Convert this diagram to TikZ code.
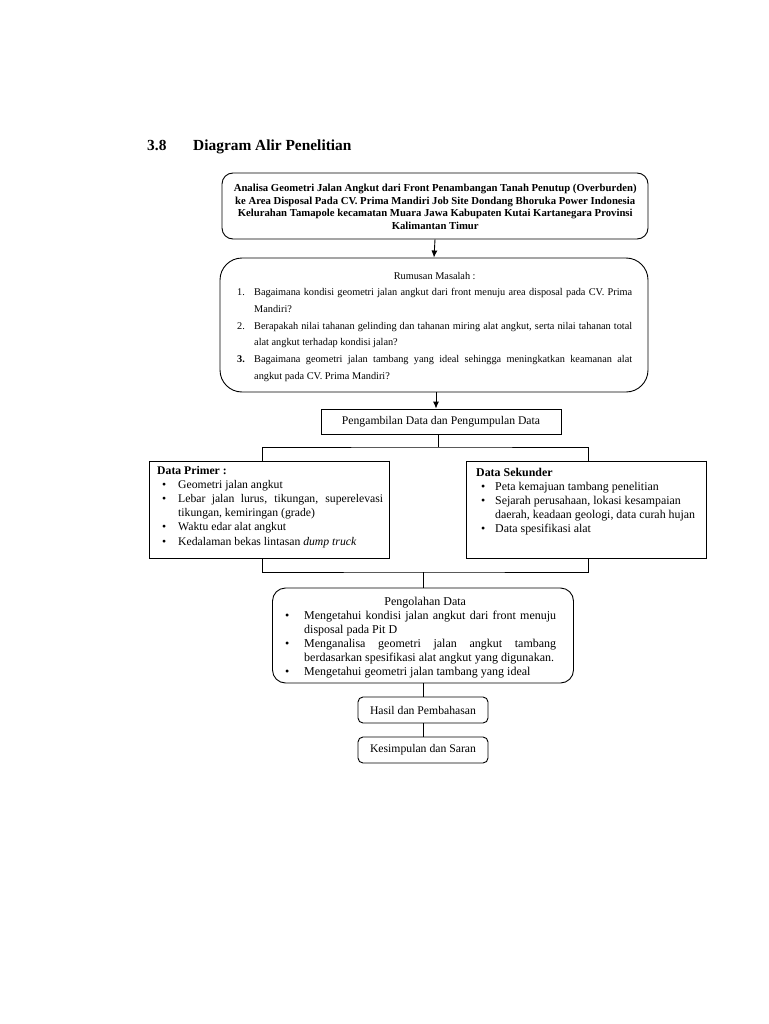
\documentclass[tikz,border=0pt]{standalone}
\usepackage{fontspec}
\setmainfont{Liberation Serif}
\usetikzlibrary{arrows.meta}
\newcommand\bulA{\makebox[21pt][l]{\hspace{5pt}\textbullet}}
\newcommand\bulB{\makebox[19pt][l]{\hspace{5pt}\textbullet}}
\newcommand\bulC{\makebox[22pt][l]{\hspace{3pt}\textbullet}}
\begin{document}
\begin{tikzpicture}[x=1pt,y=-1pt,
  box/.style={draw, line width=0.9pt, inner sep=0pt},
  conn/.style={line width=0.9pt},
  arr/.style={conn, -{Latex[length=7pt,width=6pt]}},
  txt/.style={inner sep=0pt, anchor=base west, align=justify},
  f103/.style={font=\fontsize{10.3}{16.7}\selectfont},
  f117/.style={font=\fontsize{11.7}{14.2}\selectfont},
  f12/.style={font=\fontsize{12}{14}\selectfont}]
\useasboundingbox (0,0) rectangle (768,1024);
\fill[white] (0,0) rectangle (768,1024);

% title
\node[inner sep=0pt, anchor=base west, font=\fontsize{15.4}{18}\selectfont\bfseries] (num) at (147,151) {3.8};
\node[inner sep=0pt, anchor=base west, font=\fontsize{15.4}{18}\selectfont\bfseries] (ttl) at (193,151) {Diagram Alir Penelitian};

% box 1
\node[box, rounded corners=11pt, minimum width=426pt, minimum height=66pt] (b1) at (435,206) {};
\node[txt, text width=420pt, font=\fontsize{10.7}{12.7}\selectfont\bfseries] (t1) at (225,191.5)
 {\makebox[420pt]{Analisa Geometri Jalan Angkut dari Front Penambangan Tanah Penutup (Overburden)}\\
  \makebox[420pt]{ke Area Disposal Pada CV. Prima Mandiri Job Site Dondang Bhoruka Power Indonesia}\\
  \makebox[420pt]{Kelurahan Tamapole kecamatan Muara Jawa Kabupaten Kutai Kartanegara Provinsi}\\
  \makebox[420pt]{Kalimantan Timur}};

% box 2
\node[box, rounded corners=22pt, minimum width=428pt, minimum height=134pt] (b2) at (434,325) {};
\node[txt, f103, text width=395pt] (t2) at (237,279)
 {\makebox[395pt]{Rumusan Masalah :}\\
  \makebox[17pt][l]{1.}\makebox[378pt][s]{Bagaimana kondisi geometri jalan angkut dari front menuju area disposal pada CV. Prima}\\
  \hspace*{17pt}Mandiri?\\
  \makebox[17pt][l]{2.}\makebox[378pt][s]{Berapakah nilai tahanan gelinding dan tahanan miring alat angkut, serta nilai tahanan total}\\
  \hspace*{17pt}alat angkut terhadap kondisi jalan?\\
  \makebox[17pt][l]{\textbf{3.}}\makebox[378pt][s]{Bagaimana geometri jalan tambang yang ideal sehingga meningkatkan keamanan alat}\\
  \hspace*{17pt}angkut pada CV. Prima Mandiri?};

% box 3
\node[box, minimum width=240pt, minimum height=25pt, f117] (b3) at (441,421.5) {Pengambilan Data dan Pengumpulan Data};

% data primer
\node[box, minimum width=240pt, minimum height=97pt] (bp) at (269,509.5) {};
\draw[line width=1.6pt] (bp.north east) -- (bp.south east) -- (bp.south west);
\node[txt, f117, text width=228pt] (tp) at (157,474)
 {\textbf{Data Primer :}\\
  \bulA Geometri jalan angkut\\
  \bulA\makebox[205pt][s]{Lebar jalan lurus, tikungan, superelevasi}\\
  \hspace*{21pt}tikungan, kemiringan (grade)\\
  \bulA Waktu edar alat angkut\\
  \bulA Kedalaman bekas lintasan \textit{dump truck}};

% data sekunder
\node[box, minimum width=240pt, minimum height=97pt] (bs) at (586,509.5) {};
\draw[line width=1.6pt] (bs.north east) -- (bs.south east) -- (bs.south west);
\node[txt, font=\fontsize{11.9}{14}\selectfont, text width=228pt] (ts) at (476,476)
 {\textbf{Data Sekunder}\\
  \bulB Peta kemajuan tambang penelitian\\
  \bulB Sejarah perusahaan, lokasi kesampaian\\
  \hspace*{19pt}daerah, keadaan geologi, data curah hujan\\
  \bulB Data spesifikasi alat};

% pengolahan
\node[box, rounded corners=13pt, minimum width=301pt, minimum height=95pt] (b4) at (423,635.5) {};
\node[txt, f12, text width=276pt] (t4) at (282,605)
 {\makebox[274pt]{\hspace{12pt}Pengolahan Data}\\
  \bulC\makebox[252pt][s]{Mengetahui kondisi jalan angkut dari front menuju}\\
  \hspace*{22pt}disposal pada Pit D\\
  \bulC\makebox[252pt][s]{Menganalisa geometri jalan angkut tambang}\\
  \hspace*{22pt}berdasarkan spesifikasi alat angkut yang digunakan.\\
  \bulC Mengetahui geometri jalan tambang yang ideal};

% hasil, kesimpulan
\node[box, rounded corners=5pt, minimum width=130pt, minimum height=26pt, f117] (b5) at (423,710) {Hasil dan Pembahasan};
\node[box, rounded corners=5pt, minimum width=130pt, minimum height=26pt, f117] (b6) at (423,750) {Kesimpulan dan Saran};

% connectors
\draw[arr] (b1.south) -- (b2.north);
\coordinate (a2) at (436,392);
\draw[arr] (a2) -- (a2 |- b3.north);
\coordinate (jt) at (438,447);
\coordinate (pin) at (262,461);
\coordinate (sin) at (588,461);
\draw[conn] (jt |- b3.south) -- (jt);
\draw[conn] (pin) |- (jt) -| (sin);
\coordinate (pout) at (262,558);
\coordinate (sout) at (588,558);
\coordinate (jb) at (423,572);
\draw[conn] (pout) |- (jb) -| (sout);
\draw[conn] (jb) -- (b4.north);
\draw[conn] (b4.south) -- (b5.north);
\draw[conn] (b5.south) -- (b6.north);
\end{tikzpicture}
\end{document}
